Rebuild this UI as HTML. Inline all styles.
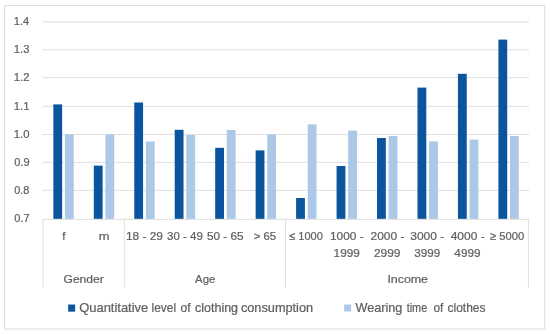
<!DOCTYPE html>
<html><head><meta charset="utf-8"><title>Chart</title>
<style>html,body{margin:0;padding:0;background:#fff}body{width:550px;height:334px;overflow:hidden}svg{display:block}text{font-family:"Liberation Sans",sans-serif;fill:#606060;stroke:#606060;stroke-width:0.22px}</style></head>
<body>
<svg width="550" height="334" viewBox="0 0 550 334">
<rect x="0" y="0" width="550" height="334" fill="#fff"/>
<rect x="4.5" y="5.5" width="540.3" height="323.5" fill="#fff" stroke="#DCDCDC" stroke-width="1"/>
<line x1="42.4" x2="529.0" y1="21.90" y2="21.90" stroke="#DFDFDF" stroke-width="1"/>
<line x1="42.4" x2="529.0" y1="49.80" y2="49.80" stroke="#DFDFDF" stroke-width="1"/>
<line x1="42.4" x2="529.0" y1="77.70" y2="77.70" stroke="#DFDFDF" stroke-width="1"/>
<line x1="42.4" x2="529.0" y1="106.40" y2="106.40" stroke="#DFDFDF" stroke-width="1"/>
<line x1="42.4" x2="529.0" y1="134.50" y2="134.50" stroke="#DFDFDF" stroke-width="1"/>
<line x1="42.4" x2="529.0" y1="162.40" y2="162.40" stroke="#DFDFDF" stroke-width="1"/>
<line x1="42.4" x2="529.0" y1="190.40" y2="190.40" stroke="#DFDFDF" stroke-width="1"/>
<rect x="53.35" y="104.40" width="8.80" height="114.50" fill="#0B549E"/>
<rect x="64.95" y="134.40" width="8.80" height="84.50" fill="#ACC8E8"/>
<rect x="93.81" y="165.60" width="8.80" height="53.30" fill="#0B549E"/>
<rect x="105.41" y="134.40" width="8.80" height="84.50" fill="#ACC8E8"/>
<rect x="134.27" y="102.50" width="8.80" height="116.40" fill="#0B549E"/>
<rect x="145.87" y="141.50" width="8.80" height="77.40" fill="#ACC8E8"/>
<rect x="174.73" y="129.80" width="8.80" height="89.10" fill="#0B549E"/>
<rect x="186.33" y="135.00" width="8.80" height="83.90" fill="#ACC8E8"/>
<rect x="215.19" y="147.80" width="8.80" height="71.10" fill="#0B549E"/>
<rect x="226.79" y="130.00" width="8.80" height="88.90" fill="#ACC8E8"/>
<rect x="255.65" y="150.40" width="8.80" height="68.50" fill="#0B549E"/>
<rect x="267.25" y="134.40" width="8.80" height="84.50" fill="#ACC8E8"/>
<rect x="296.11" y="198.00" width="8.80" height="20.90" fill="#0B549E"/>
<rect x="307.71" y="124.40" width="8.80" height="94.50" fill="#ACC8E8"/>
<rect x="336.57" y="166.00" width="8.80" height="52.90" fill="#0B549E"/>
<rect x="348.17" y="130.60" width="8.80" height="88.30" fill="#ACC8E8"/>
<rect x="377.03" y="138.00" width="8.80" height="80.90" fill="#0B549E"/>
<rect x="388.63" y="136.00" width="8.80" height="82.90" fill="#ACC8E8"/>
<rect x="417.49" y="87.60" width="8.80" height="131.30" fill="#0B549E"/>
<rect x="429.09" y="141.40" width="8.80" height="77.50" fill="#ACC8E8"/>
<rect x="457.95" y="73.80" width="8.80" height="145.10" fill="#0B549E"/>
<rect x="469.55" y="139.60" width="8.80" height="79.30" fill="#ACC8E8"/>
<rect x="498.41" y="39.60" width="8.80" height="179.30" fill="#0B549E"/>
<rect x="510.01" y="136.00" width="8.80" height="82.90" fill="#ACC8E8"/>
<line x1="43.0" x2="528.5" y1="219.40" y2="219.40" stroke="#DFDFDF" stroke-width="1"/>
<line x1="43.00" x2="43.00" y1="218.90" y2="287.7" stroke="#DFDFDF" stroke-width="1"/>
<line x1="124.30" x2="124.30" y1="218.90" y2="287.7" stroke="#DFDFDF" stroke-width="1"/>
<line x1="285.50" x2="285.50" y1="218.90" y2="287.7" stroke="#DFDFDF" stroke-width="1"/>
<line x1="528.45" x2="528.45" y1="218.90" y2="287.7" stroke="#DFDFDF" stroke-width="1"/>
<text x="13.72" y="25.2" font-size="11.5" textLength="15.57" lengthAdjust="spacingAndGlyphs">1.4</text>
<text x="13.72" y="53.1" font-size="11.5" textLength="15.70" lengthAdjust="spacingAndGlyphs">1.3</text>
<text x="13.71" y="81.0" font-size="11.5" textLength="15.83" lengthAdjust="spacingAndGlyphs">1.2</text>
<text x="13.71" y="109.7" font-size="11.5" textLength="15.83" lengthAdjust="spacingAndGlyphs">1.1</text>
<text x="13.72" y="137.8" font-size="11.5" textLength="15.70" lengthAdjust="spacingAndGlyphs">1.0</text>
<text x="14.22" y="165.7" font-size="11.5" textLength="15.31" lengthAdjust="spacingAndGlyphs">0.9</text>
<text x="14.22" y="193.7" font-size="11.5" textLength="15.18" lengthAdjust="spacingAndGlyphs">0.8</text>
<text x="14.22" y="222.3" font-size="11.5" textLength="15.31" lengthAdjust="spacingAndGlyphs">0.7</text>
<text x="62.31" y="240.4" font-size="11.5" textLength="3.20" lengthAdjust="spacingAndGlyphs">f</text>
<text x="98.66" y="240.4" font-size="11.5" textLength="10.75" lengthAdjust="spacingAndGlyphs">m</text>
<text x="125.95" y="240.4" font-size="11.5" textLength="37.06" lengthAdjust="spacingAndGlyphs">18 - 29</text>
<text x="167.00" y="240.4" font-size="11.5" textLength="35.86" lengthAdjust="spacingAndGlyphs">30 - 49</text>
<text x="206.99" y="240.4" font-size="11.5" textLength="36.58" lengthAdjust="spacingAndGlyphs">50 - 65</text>
<text x="253.81" y="240.4" font-size="11.5" textLength="22.36" lengthAdjust="spacingAndGlyphs">&gt; 65</text>
<text x="289.22" y="240.4" font-size="11.5" textLength="33.61" lengthAdjust="spacingAndGlyphs">≤ 1000</text>
<text x="330.02" y="240.4" font-size="11.5" textLength="33.60" lengthAdjust="spacingAndGlyphs">1000 -</text>
<text x="370.55" y="240.4" font-size="11.5" textLength="33.93" lengthAdjust="spacingAndGlyphs">2000 -</text>
<text x="410.26" y="240.4" font-size="11.5" textLength="34.03" lengthAdjust="spacingAndGlyphs">3000 -</text>
<text x="450.66" y="240.4" font-size="11.5" textLength="34.07" lengthAdjust="spacingAndGlyphs">4000 -</text>
<text x="489.98" y="240.4" font-size="11.5" textLength="34.20" lengthAdjust="spacingAndGlyphs">≥ 5000</text>
<text x="333.60" y="256.6" font-size="11.5" textLength="26.20" lengthAdjust="spacingAndGlyphs">1999</text>
<text x="373.98" y="256.6" font-size="11.5" textLength="26.54" lengthAdjust="spacingAndGlyphs">2999</text>
<text x="414.27" y="256.6" font-size="11.5" textLength="25.98" lengthAdjust="spacingAndGlyphs">3999</text>
<text x="454.39" y="256.6" font-size="11.5" textLength="26.27" lengthAdjust="spacingAndGlyphs">4999</text>
<text x="63.55" y="283.0" font-size="11.5" textLength="40.17" lengthAdjust="spacingAndGlyphs">Gender</text>
<text x="195.08" y="283.0" font-size="11.5" textLength="20.29" lengthAdjust="spacingAndGlyphs">Age</text>
<text x="387.42" y="283.0" font-size="11.5" textLength="40.58" lengthAdjust="spacingAndGlyphs">Income</text>
<text y="312.2" font-size="12.4"><tspan x="79.20" textLength="69.08" lengthAdjust="spacingAndGlyphs">Quantitative</tspan> <tspan x="151.50" textLength="24.55" lengthAdjust="spacingAndGlyphs">level</tspan> <tspan x="180.51" textLength="10.06" lengthAdjust="spacingAndGlyphs">of</tspan> <tspan x="195.07" textLength="42.95" lengthAdjust="spacingAndGlyphs">clothing</tspan> <tspan x="240.91" textLength="72.20" lengthAdjust="spacingAndGlyphs">consumption</tspan></text>
<text y="312.2" font-size="12.4"><tspan x="355.50" textLength="46.82" lengthAdjust="spacingAndGlyphs">Wearing</tspan> <tspan x="406.70" textLength="20.50" lengthAdjust="spacingAndGlyphs">time</tspan> <tspan x="433.38" textLength="9.84" lengthAdjust="spacingAndGlyphs">of</tspan> <tspan x="447.52" textLength="37.96" lengthAdjust="spacingAndGlyphs">clothes</tspan></text>
<rect x="68.15" y="304.55" width="7" height="7.1" fill="#0B549E"/>
<rect x="344.1" y="304.5" width="7" height="7" fill="#ACC8E8"/>
</svg>
</body></html>
